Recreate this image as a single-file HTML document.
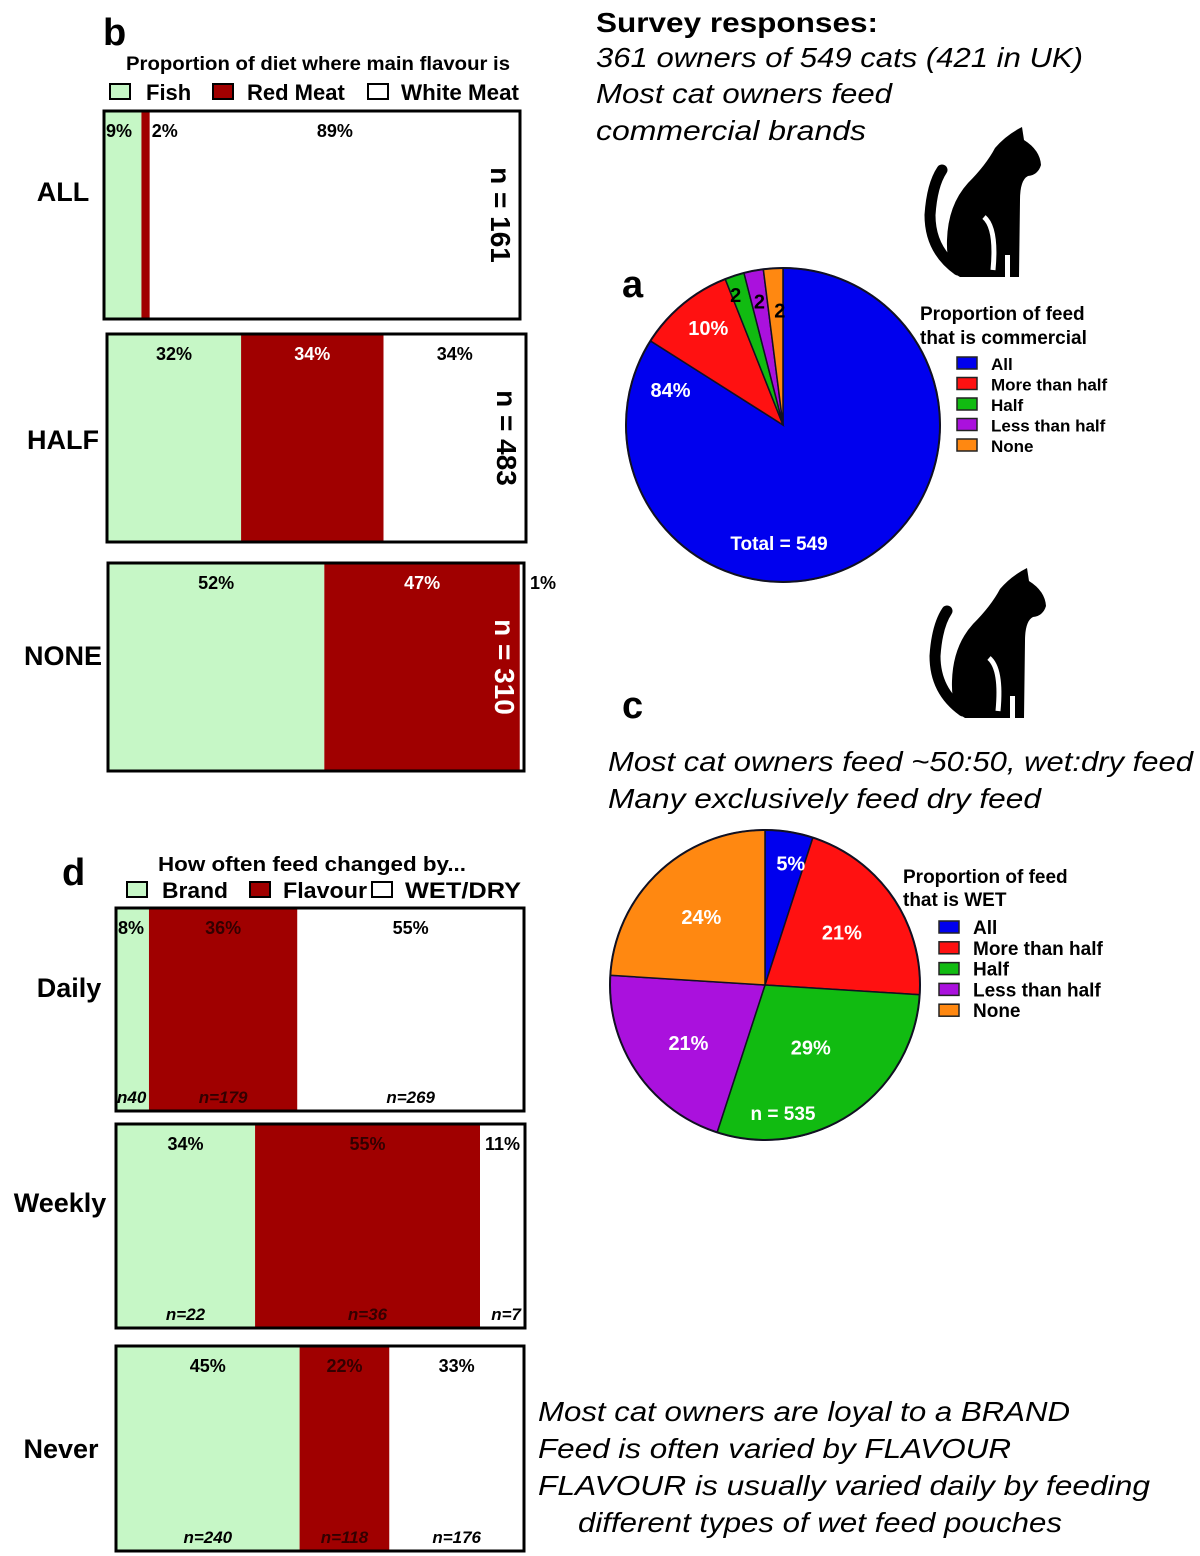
<!DOCTYPE html>
<html><head><meta charset="utf-8"><style>
body{margin:0;background:#fff;}
svg{display:block;font-family:"Liberation Sans",Arial,sans-serif;}
.b{font-weight:bold}
.it{font-style:italic}
</style></head><body>
<svg id="fig" width="1200" height="1556" viewBox="0 0 1200 1556" xmlns="http://www.w3.org/2000/svg">
<!-- Panel b header -->
<text x="103" y="45" font-size="38" class="b">b</text>
<text x="126" y="70" font-size="19" class="b" textLength="384" lengthAdjust="spacingAndGlyphs">Proportion of diet where main flavour is</text>
<g font-size="22" class="b">
<rect x="110" y="84" width="20" height="15" fill="#c6f7c6" stroke="#000" stroke-width="2"/>
<text x="146" y="100">Fish</text>
<rect x="213" y="84" width="20" height="15" fill="#a00000" stroke="#000" stroke-width="2"/>
<text x="247" y="100">Red Meat</text>
<rect x="368" y="84" width="20" height="15" fill="#fff" stroke="#000" stroke-width="2"/>
<text x="401" y="100" textLength="118" lengthAdjust="spacingAndGlyphs">White Meat</text>
</g>
<g id="panelB"></g>

<!-- Panel d header -->
<text x="62" y="885" font-size="38" class="b">d</text>
<text x="158" y="871" font-size="20" class="b" textLength="308" lengthAdjust="spacingAndGlyphs">How often feed changed by...</text>
<g font-size="22" class="b">
<rect x="127" y="882" width="20" height="15" fill="#c6f7c6" stroke="#000" stroke-width="2"/>
<text x="162" y="898" textLength="66" lengthAdjust="spacingAndGlyphs">Brand</text>
<rect x="250" y="882" width="20" height="15" fill="#a00000" stroke="#000" stroke-width="2"/>
<text x="283" y="898" textLength="84" lengthAdjust="spacingAndGlyphs">Flavour</text>
<rect x="372" y="882" width="20" height="15" fill="#fff" stroke="#000" stroke-width="2"/>
<text x="405" y="898" textLength="116" lengthAdjust="spacingAndGlyphs">WET/DRY</text>
</g>
<g id="panelD"></g>

<!-- Top right text -->
<text x="596" y="32" font-size="28" class="b" textLength="282" lengthAdjust="spacingAndGlyphs">Survey responses:</text>
<text x="596" y="67" font-size="28" class="it" textLength="487" lengthAdjust="spacingAndGlyphs">361 owners of 549 cats (421 in UK)</text>
<text x="596" y="103" font-size="28" class="it" textLength="296" lengthAdjust="spacingAndGlyphs">Most cat owners feed</text>
<text x="596" y="140" font-size="28" class="it" textLength="270" lengthAdjust="spacingAndGlyphs">commercial brands</text>

<!-- Cats -->
<g transform="translate(900,120)">
<path d="M122,7 L124,20 Q140,30 141,45 Q138,55 128,56 Q120,60 120,80 L119,157 L110,157 L110,135 L105,135 L105,157 L60,157 Q46,150 47,120 Q48,85 68,63 Q86,45 95,28 Q106,15 122,7 Z" fill="#000"/>
<path d="M58,150 Q30,130 30,95 Q32,65 42,50" stroke="#000" stroke-width="11" fill="none" stroke-linecap="round"/>
<path d="M84,97 Q97,108 93,150" stroke="#fff" stroke-width="5" fill="none"/>
</g>
<g transform="translate(905,561)">
<path d="M122,7 L124,20 Q140,30 141,45 Q138,55 128,56 Q120,60 120,80 L119,157 L110,157 L110,135 L105,135 L105,157 L60,157 Q46,150 47,120 Q48,85 68,63 Q86,45 95,28 Q106,15 122,7 Z" fill="#000"/>
<path d="M58,150 Q30,130 30,95 Q32,65 42,50" stroke="#000" stroke-width="11" fill="none" stroke-linecap="round"/>
<path d="M84,97 Q97,108 93,150" stroke="#fff" stroke-width="5" fill="none"/>
</g>

<text x="622" y="297" font-size="38" class="b">a</text>
<g id="pieA"></g>
<text x="779" y="550" font-size="19" class="b" fill="#fff" text-anchor="middle">Total = 549</text>
<text x="920" y="320" font-size="19" class="b">Proportion of feed</text>
<text x="920" y="344" font-size="19" class="b">that is commercial</text>
<g id="legA"></g>

<text x="622" y="718" font-size="38" class="b">c</text>
<text x="608" y="771" font-size="28" class="it" textLength="585" lengthAdjust="spacingAndGlyphs">Most cat owners feed ~50:50, wet:dry feed</text>
<text x="608" y="808" font-size="28" class="it" textLength="433" lengthAdjust="spacingAndGlyphs">Many exclusively feed dry feed</text>
<g id="pieC"></g>
<text x="783" y="1120" font-size="19" class="b" fill="#fff" text-anchor="middle">n = 535</text>
<text x="903" y="883" font-size="19" class="b">Proportion of feed</text>
<text x="903" y="906" font-size="19" class="b">that is WET</text>
<g id="legC"></g>

<g font-size="28" class="it">
<text x="538" y="1421" textLength="532" lengthAdjust="spacingAndGlyphs">Most cat owners are loyal to a BRAND</text>
<text x="538" y="1458" textLength="473" lengthAdjust="spacingAndGlyphs">Feed is often varied by FLAVOUR</text>
<text x="538" y="1495" textLength="612" lengthAdjust="spacingAndGlyphs">FLAVOUR is usually varied daily by feeding</text>
<text x="578" y="1532" textLength="484" lengthAdjust="spacingAndGlyphs">different types of wet feed pouches</text>
</g>
</svg>
<script>
const NS="http://www.w3.org/2000/svg";
// Panel b data
const bCategories=["ALL","HALF","NONE"];
const bFish=[9,32,52];
const bRed=[2,34,47];
const bWhite=[89,34,1];
const bN=[161,483,310];
// Panel d data
const dCategories=["Daily","Weekly","Never"];
const dBrand=[8,34,45];
const dFlavour=[36,55,22];
const dWetDry=[55,11,33];
const dBrandN=["n40","n=22","n=240"];
const dFlavourN=["n=179","n=36","n=118"];
const dWetDryN=["n=269","n=7","n=176"];
// Pie a data
const aLabels=["All","More than half","Half","Less than half","None"];
const aValues=[84,10,2,2,2];
const aText=["84%","10%","2","2","2"];
// Pie c data
const cLabels=["All","More than half","Half","Less than half","None"];
const cValues=[5,21,29,21,24];
const cText=["5%","21%","29%","21%","24%"];

const pieColors=["#0000ee","#ff1111","#11bb11","#aa11dd","#ff8811"];
const segColors=["#c6f7c6","#a00000","#ffffff"];

function mk(tag,attrs,parent,txt){const e=document.createElementNS(NS,tag);for(const k in attrs)e.setAttribute(k,attrs[k]);if(txt!==undefined)e.textContent=txt;parent.appendChild(e);return e;}

const bBoxes=[[104,111,416,208],[107,334,419,208],[108,563,416,208]];
const dBoxes=[[116,908,408,203],[116,1124,409,204],[116,1346,408,205]];
const bCatY=[201,449,665];
const dCatY=[997,1212,1458];
const dCatX=[69,60,61];

function drawStack(g,box,vals,cat,catX,catY,nLabels,nameP){
  const [x,y,w,h]=box;
  const total=vals.reduce((a,b)=>a+b,0);
  const sx=v=>v/total*w;
  const lab=mk('text',{x:catX,y:catY,'font-size':27,'font-weight':'bold','text-anchor':'middle'},g,cat);
  
  
  let cx=x;
  vals.forEach((v,i)=>{
    const sw=sx(v);
    const r=mk('rect',{x:cx,y:y,width:sw,height:h,fill:segColors[i]},g);
    
    
    cx+=sw;
  });
  cx=x;
  vals.forEach((v,i)=>{
    const sw=sx(v);
    let tx=cx+sw/2;
    let anchor='middle';
    let narrow=false;
    if(sw<40){tx=(i===0)?cx+2:cx+sw+2;anchor='start';narrow=true;}
    if(i===2&&sw<15){tx=x+w+6;anchor='start';}
    let col='#000';
    if(i===1&&!narrow) col=nLabels?'#300':'#fff';
    const t=mk('text',{x:tx,y:y+26,'font-size':18,'font-weight':'bold','text-anchor':anchor,fill:col},g,v+'%');
    
    
    if(nLabels){
      let nx=cx+sw/2,na='middle';
      if(sw<40){nx=cx+1;na='start';}
      if(i===2&&sw<60){nx=x+w-4;na='end';}
      const nt=mk('text',{x:nx,y:y+h-8,'font-size':17,'font-weight':'bold','font-style':'italic','text-anchor':na,fill:i===1?'#300':'#000'},g,nLabels[i]);
      
      
    }
    cx+=sw;
  });
  const fr=mk('rect',{x:x,y:y,width:w,height:h,fill:'none',stroke:'#000','stroke-width':3},g);
  
  
}
const gB=document.getElementById('panelB');
bCategories.forEach((c,i)=>{
  drawStack(gB,bBoxes[i],[bFish[i],bRed[i],bWhite[i]],c,63,bCatY[i],null,'b-'+c.toLowerCase());
  const [x,y,w,h]=bBoxes[i];
  const tx=x+w-29,ty=y+h/2;
  const t=mk('text',{x:tx,y:ty,'font-size':28,'font-weight':'bold','text-anchor':'middle',transform:`rotate(90 ${tx} ${ty})`,fill:i===2?'#fff':'#000'},gB,'n = '+bN[i]);
  
  
});
const gD=document.getElementById('panelD');
dCategories.forEach((c,i)=>{
  drawStack(gD,dBoxes[i],[dBrand[i],dFlavour[i],dWetDry[i]],c,dCatX[i],dCatY[i],[dBrandN[i],dFlavourN[i],dWetDryN[i]],'d-'+c.toLowerCase());
});

function drawPie(g,cx,cy,r,vals,texts,name,labelFrac,angOff){
  const total=vals.reduce((a,b)=>a+b,0);
  let a0=-Math.PI/2;
  vals.forEach((v,i)=>{
    const a1=a0+v/total*2*Math.PI;
    const large=(a1-a0)>Math.PI?1:0;
    const p=mk('path',{d:`M${cx},${cy} L${cx+r*Math.cos(a0)},${cy+r*Math.sin(a0)} A${r},${r} 0 ${large} 1 ${cx+r*Math.cos(a1)},${cy+r*Math.sin(a1)} Z`,fill:pieColors[i],stroke:'#112',"stroke-width":1.5},g);
    
    
    a0=a1;
  });
  a0=-Math.PI/2;
  vals.forEach((v,i)=>{
    const a1=a0+v/total*2*Math.PI;
    const am=(a0+a1)/2+angOff[i]*Math.PI/180;
    const f=labelFrac[i];
    const t=mk('text',{x:cx+f*r*Math.cos(am),y:cy+f*r*Math.sin(am)+7,'font-size':20,'font-weight':'bold','text-anchor':'middle',fill:texts[i].indexOf('%')<0?'#000':'#fff'},g,texts[i]);
    
    
    a0=a1;
  });
  const c=mk('circle',{cx:cx,cy:cy,r:r,fill:'none',stroke:'#112','stroke-width':2},g);
  
  
}
drawPie(document.getElementById('pieA'),783,425,157,aValues,aText,'pie-a',[0.75,0.78,0.88,0.8,0.73],[136,2,-2,0,2]);
drawPie(document.getElementById('pieC'),765,985,155,cValues,cText,'pie-c',[0.8,0.6,0.5,0.62,0.6],[3,0,-2,-3,0]);

function drawLegend(g,x,y,step,labels,fs){
  labels.forEach((l,i)=>{
    const r=mk('rect',{x:x,y:y+i*step,width:20,height:12,fill:pieColors[i],stroke:'#222','stroke-width':1.5},g);
    
    
    const t=mk('text',{x:x+34,y:y+i*step+13,'font-size':fs,'font-weight':'bold'},g,l);
    
    
  });
}
drawLegend(document.getElementById('legA'),957,357,20.5,aLabels,17);
drawLegend(document.getElementById('legC'),939,921,20.8,cLabels,19);
</script>
</body></html>
